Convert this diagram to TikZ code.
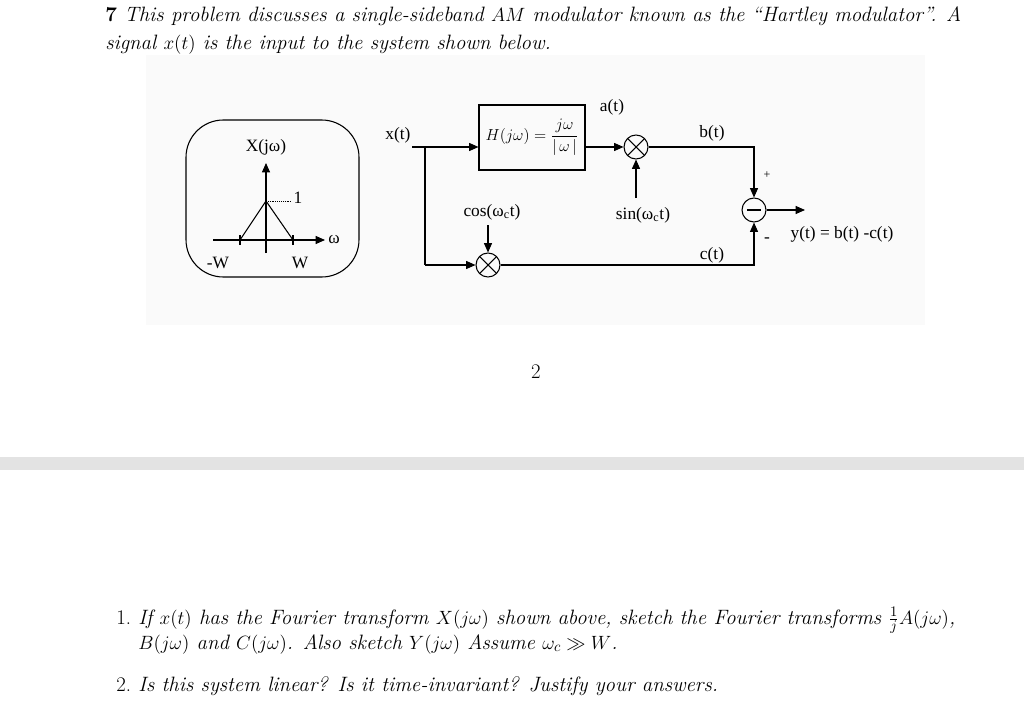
\documentclass[tikz,border=0pt]{standalone}
\usepackage{fontspec}
\usepackage{amsmath,amssymb}
\newfontfamily\tms{Liberation Serif}
\usetikzlibrary{arrows.meta}
\begin{document}
\begin{tikzpicture}[x=0.75pt,y=-0.75pt,
  lbl/.style={font=\tms\fontsize{13}{15}\selectfont,inner sep=0pt},
  txt/.style={font=\fontsize{15.6}{18}\selectfont\itshape,inner sep=0pt,anchor=base west},
  wire/.style={line width=0.8pt},
  arr/.style={wire,-{Triangle[length=7pt,width=6pt]}},
  mult/.style={circle,draw,line width=0.8pt,minimum size=18pt,inner sep=0pt,path picture={
     \draw[line width=0.8pt] (path picture bounding box.south west)--(path picture bounding box.north east)
           (path picture bounding box.north west)--(path picture bounding box.south east);}},
  summ/.style={circle,draw,line width=0.8pt,minimum size=18pt,inner sep=0pt}]
\useasboundingbox (0,0) rectangle (1024,706);
\fill[white] (0,0) rectangle (1024,706);
\fill[gray!4] (146,55) rectangle (925,325);
\fill[gray!22] (0,457) rectangle (1024,470);
% header text
\node[txt] (t1) at (105,22) {\textbf{\upshape 7} This problem discusses a single-sideband $AM$ modulator known as the ``Hartley modulator''. A};
\node[txt] (t2) at (105,50) {signal $x(t)$ is the input to the system shown below.};
% spectrum box
\draw[wire,rounded corners=28pt] (186,120) rectangle (359,277);
\coordinate (vb) at (266,253); \coordinate (vt) at (266,163);
\coordinate (hl) at (213,240); \coordinate (hr) at (325,240);
\draw[wire] (vb)--(266,172);
\draw[arr] (266,180)--(vt);
\draw[arr] (hl)--(hr);
\draw[wire] (240,240)--(266,201)--(293,240);
\draw[wire] (240,235)--(240,245) (293,235)--(293,245);
\draw[densely dotted,line width=0.4pt] (266,201)--(292,201);
\node[lbl] (one) at (298,198) {1};
\node[lbl,anchor=west] (om) at (328,240) {ω};
\node[lbl] (X) at (266,147) {X(jω)};
\node[lbl] (mW) at (218,263) {-W};
\node[lbl] (W) at (300,263) {W};
% main system
\node[lbl] (xt) at (398,135) {x(t)};
\coordinate (xs) at (412,147);
\coordinate (br) at (425,147);
\node[draw,wire,minimum width=106*0.75pt,minimum height=65*0.75pt,inner sep=0pt] (H) at (532,137.5)
  {\fontsize{11.5}{12}\selectfont $H(j\omega)=\dfrac{j\omega}{|\,\omega\,|}$};
\node[mult] (m1) at (636,147) {};
\node[mult] (m2) at (488,265) {};
\node[summ] (s) at (754,210) {};
\draw[line width=0.9pt] (747,210)--(761,210);
\draw[wire] (xs)--(br);
\draw[arr] (br)--(H.west|-br);
\draw[wire] (br)--(425,265);
\draw[arr] (425,265)--(m2.west);
\draw[arr] (H.east|-m1)--(m1.west);
\node[lbl] (at) at (612,107) {a(t)};
\coordinate (sinb) at (636,198);
\draw[arr] (sinb)--(m1.south);
\node[lbl] (sin) at (643,215) {sin(ω\textsubscript{c}t)};
\coordinate (cost) at (488,225);
\draw[arr] (cost)--(m2.north);
\node[lbl] (cos) at (492,212) {cos(ω\textsubscript{c}t)};
\draw[arr] (m1.east)--(754,147)--(s.north);
\node[lbl] (bt) at (712,133) {b(t)};
\node[lbl] (plus) at (767,175) {\fontsize{9}{9}\selectfont +};
\draw[arr] (m2.east)--(754,265)--(s.south);
\node[lbl] (ct) at (712,255) {c(t)};
\node[lbl] (minus) at (767,240) {-};
\coordinate (yo) at (805,210);
\draw[arr] (s.east)--(yo);
\node[lbl] (yt) at (842,234) {y(t) = b(t) -c(t)};
% page number
\node[font=\fontsize{15.6}{18}\selectfont] (pg) at (536,372) {2};
% questions
\node[txt] (q1n) at (116,624) {\upshape 1.};
\node[txt] (q1) at (138,624) {If $x(t)$ has the Fourier transform $X(j\omega)$ shown above, sketch the Fourier transforms $\frac{1}{j}A(j\omega)$,};
\node[txt] (q1b) at (138,649) {$B(j\omega)$ and $C(j\omega)$. Also sketch $Y(j\omega)$ Assume $\omega_c\gg W$.};
\node[txt] (q2n) at (116,691) {\upshape 2.};
\node[txt] (q2) at (138,691) {Is this system linear? Is it time-invariant? Justify your answers.};
\end{tikzpicture}
\end{document}
